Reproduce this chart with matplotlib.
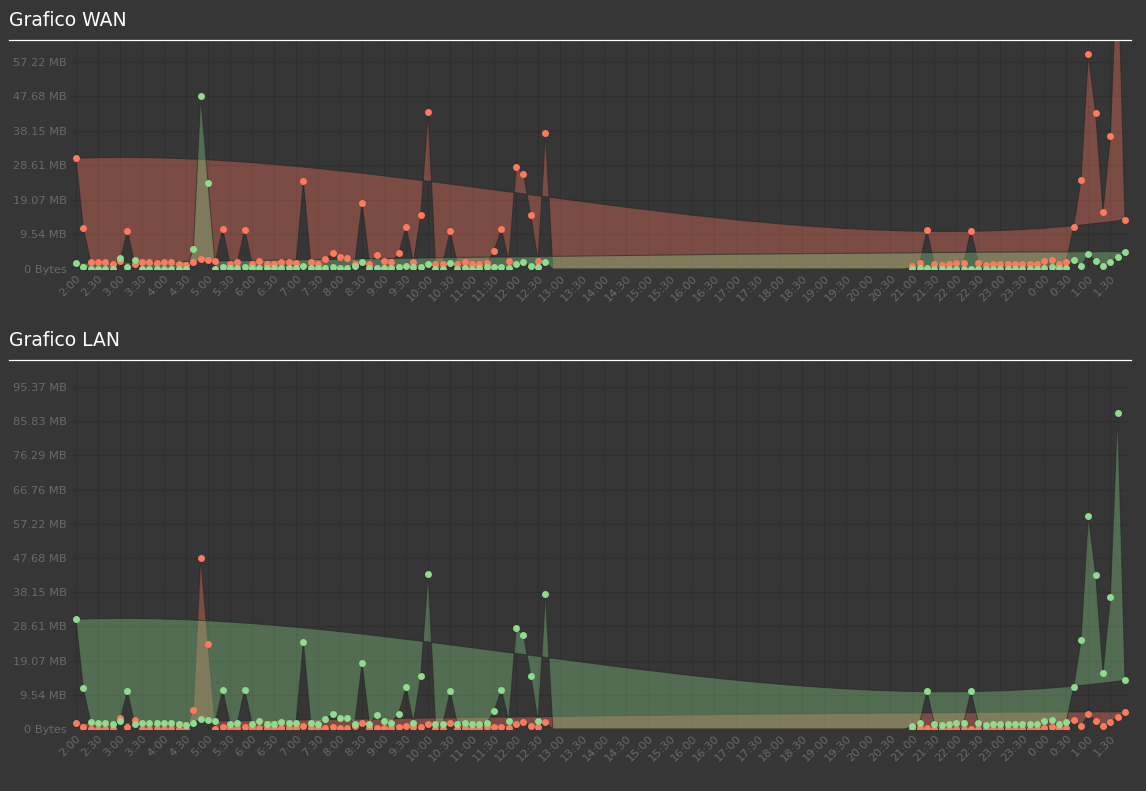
import numpy as np
import matplotlib
matplotlib.use("Agg")
import matplotlib.pyplot as plt
from matplotlib.path import Path
from matplotlib.patches import PathPatch

# 10-minute samples from 2:00 to 1:50 (144 slots); None = no data
wan_red_a = [30.6, 11.3, 2.0, 1.8, 1.8, 1.4, 2.3, 10.6, 1.5, 1.8, 1.8, 1.7, 1.8, 1.8, 1.4, 1.1,
             1.8, 2.8, 2.6, 2.2, 11.0, 1.5, 1.8, 10.9, 1.5, 2.1, 1.5, 1.3, 1.9, 1.8, 1.7, 24.2,
             1.8, 1.5, 2.7, 4.3, 3.2, 3.1, 1.5, 18.3, 1.5, 3.8, 2.1, 1.8, 4.3, 11.7, 1.8, 14.9,
             43.3, 1.4, 1.4, 10.5, 1.3, 1.8, 1.5, 1.5, 1.6, 5.1, 11.0, 2.2, 28.1, 26.3, 14.8, 2.1, 37.7]
wan_green_a = [1.6, 0.6, 0.1, 0.1, 0.1, 0.0, 3.1, 0.6, 2.6, 0.1, 0.1, 0.1, 0.1, 0.1, 0.1, 0.1,
               5.4, 47.7, 23.8, 0.1, 0.6, 0.2, 0.2, 0.6, 0.2, 0.2, 0.2, 0.2, 0.2, 0.2, 0.2, 0.9,
               0.2, 0.2, 0.4, 0.5, 0.4, 0.4, 0.9, 1.8, 0.2, 0.2, 0.2, 0.2, 0.5, 0.7, 0.5, 0.6,
               1.5, 0.1, 0.1, 1.6, 0.1, 0.3, 0.1, 0.3, 0.5, 0.5, 0.5, 0.2, 1.3, 2.0, 0.9, 0.6, 2.0]
wan_red_b = [0.8, 1.6, 10.7, 1.5, 1.2, 1.4, 1.7, 1.6, 10.6, 1.7, 1.0, 1.5, 1.5, 1.3, 1.3, 1.3,
             1.3, 1.4, 2.1, 2.4, 1.5, 2.0, 11.7, 24.7, 59.3, 43.0, 15.7, 36.7, 88.0, 13.6]
wan_green_b = [0.1, 0.2, 0.3, 0.1, 0.1, 0.1, 0.1, 0.1, 0.1, 0.1, 0.1, 0.1, 0.1, 0.1, 0.1, 0.1,
               0.1, 0.1, 0.3, 0.6, 0.2, 0.3, 2.5, 0.8, 4.1, 2.3, 0.8, 1.9, 3.4, 4.8]
gap = [None] * 49

wan_red = wan_red_a + gap + wan_red_b
wan_green = wan_green_a + gap + wan_green_b
lan_green = wan_red
lan_red = wan_green

hours = [(2 + i // 6) % 24 for i in range(144)]
mins = [(i % 6) * 10 for i in range(144)]
xlabels = [f"{h}:{m:02d}" for h, m in zip(hours, mins)]

BG = "#363636"
RED = "#ff7a5c"
GREEN = "#8fdc8f"
FILL_RED = (1.0, 0.47, 0.37)
FILL_GREEN = (0.55, 0.85, 0.55)

fig = plt.figure(figsize=(11.46, 7.91), dpi=100, facecolor=BG)
W, H = 1146, 791


def area(ax, vals, color, big):
    n = len(vals)
    y = np.array([0.0 if v is None else v for v in vals])
    x = np.arange(n)
    verts = list(zip(x, y))
    x0, y0 = x[-1], y[-1]
    x3, y3 = x[0], y[0]
    if big:
        c1 = (x0 - 48, 0.0)
        c2 = (x3 + 45, y3 * 1.11)
    else:
        c1 = (x0 - 48, y0 * 0.94)
        c2 = (x3 + 45, y3 * 1.9)
    verts += [c1, c2, (x3, y3), (x3, y3)]
    codes = [Path.MOVETO] + [Path.LINETO] * (n - 1) + [Path.CURVE4] * 3 + [Path.CLOSEPOLY]
    p = PathPatch(Path(verts, codes), facecolor=(*color, 0.34), edgecolor=(0.15, 0.15, 0.15, 0.6),
                  lw=0.8, zorder=2)
    ax.add_patch(p)


def marks(ax, vals, color):
    xs = [i for i, v in enumerate(vals) if v is not None]
    ys = [v for v in vals if v is not None]
    ax.plot(xs, ys, 'o', ms=5, color=color, mec='none', zorder=4, clip_on=True)


def panel(top, bottom, ymax, title, first, second, first_big):
    ax = fig.add_axes([71 / W, 1 - bottom / H, (1130 - 71) / W, (bottom - top) / H])
    ax.set_facecolor(BG)
    ax.set_xlim(-0.68, 143.68)
    ax.set_ylim(0, ymax)
    area(ax, first[0], first[1], first_big)
    area(ax, second[0], second[1], not first_big)
    marks(ax, first[0], first[2])
    marks(ax, second[0], second[2])
    step = 9.5367
    ticks = np.arange(0, ymax, step)
    ax.set_yticks(ticks)
    ax.set_yticklabels(["0 Bytes"] + [f"{t:.2f} MB" for t in ticks[1:]])
    ax.set_xticks(range(0, 144, 3))
    ax.set_xticklabels(xlabels[::3], rotation=45, ha='right', rotation_mode='anchor')
    ax.tick_params(colors="#6a6a6a", labelsize=8.2, length=0, pad=3)
    ax.grid(True, color="#2f2f2f", lw=0.8)
    ax.set_axisbelow(True)
    for s in ax.spines.values():
        s.set_visible(False)
    fig.text(9 / W, 1 - (top - 20) / H, title, color="white", fontsize=13.5, va="center")
    fig.add_artist(plt.Line2D([9 / W, 1131 / W], [1 - top / H] * 2, color="white", lw=0.9))
    return ax


panel(40, 269, 63.3, "Grafico WAN", (wan_red, FILL_RED, RED), (wan_green, FILL_GREEN, GREEN), True)
panel(360, 729, 102.9, "Grafico LAN", (lan_red, FILL_RED, RED), (lan_green, FILL_GREEN, GREEN), False)

fig.savefig("out.png", dpi=100, facecolor=BG)
